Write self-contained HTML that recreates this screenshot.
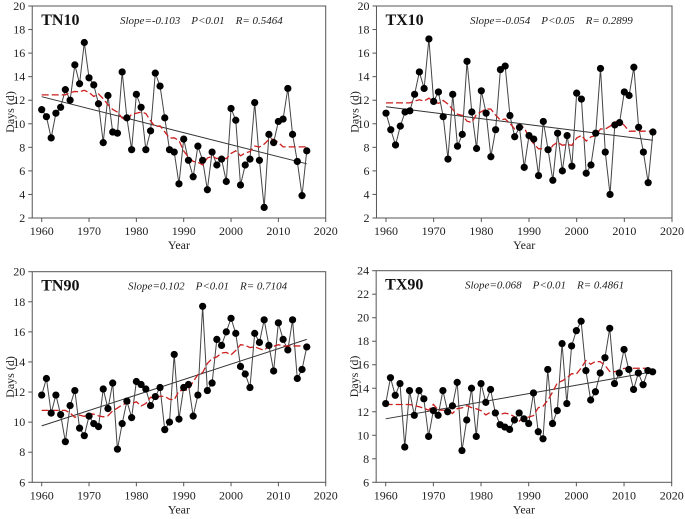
<!DOCTYPE html>
<html><head><meta charset="utf-8">
<style>
html,body{margin:0;padding:0;background:#fff;}
svg{display:block;font-family:"Liberation Serif",serif;}
</style></head>
<body>
<svg id="chart" width="685" height="519" viewBox="0 0 685 519" xmlns="http://www.w3.org/2000/svg"></svg>
<script>
const years = [];
for (let y = 1960; y <= 2016; y++) years.push(y);
const tn10 = [11.2,10.6,8.8,10.9,11.4,12.9,12.0,15.0,13.4,16.9,13.9,13.3,11.7,8.4,12.4,9.3,9.2,14.4,10.5,7.8,12.5,11.4,7.8,9.4,14.3,13.2,10.5,7.8,7.6,4.9,8.7,6.9,5.5,8.1,6.9,4.4,7.6,6.5,7.0,5.1,11.3,10.3,4.8,6.5,7.0,11.8,6.9,2.9,9.1,8.4,10.2,10.4,13.0,9.1,6.8,3.9,7.7];
const tx10 = [10.9,9.5,8.2,9.8,11.0,11.1,12.5,14.4,13.0,17.2,11.9,12.7,10.6,7.0,12.5,8.1,9.1,15.3,11.0,7.9,12.8,10.9,7.2,9.5,14.6,14.9,10.7,8.9,9.7,6.3,9.0,8.7,5.6,10.2,7.8,5.2,9.2,6.0,9.0,6.4,12.6,12.1,5.8,6.5,9.2,14.7,7.6,4.0,9.9,10.1,12.7,12.4,14.8,9.7,7.6,5.0,9.3];
const tn90 = [11.8,12.9,10.6,11.8,10.5,8.7,11.1,12.1,9.6,9.1,10.4,9.9,9.7,12.2,10.9,12.6,8.2,9.9,11.4,10.3,12.7,12.5,12.2,11.1,11.7,12.3,9.5,10.0,14.5,10.2,12.3,12.5,10.4,11.8,17.7,12.1,12.6,15.5,15.1,16.0,16.9,15.9,13.7,13.2,12.3,15.9,15.3,16.8,15.1,13.4,16.6,15.5,14.8,16.8,12.9,13.5,15.0];
const tx90 = [12.7,14.9,13.4,14.4,9.0,13.8,11.7,13.8,13.1,9.9,12.1,11.7,13.8,12.0,12.5,14.5,8.7,11.3,14.0,9.9,14.4,12.8,13.9,11.9,10.9,10.7,10.5,11.3,11.9,11.4,11.0,13.6,10.3,9.7,15.6,11.0,12.1,17.8,12.7,17.6,18.9,19.7,15.5,13.0,13.7,15.3,16.6,19.1,14.4,15.3,17.3,15.6,13.9,15.3,14.3,15.5,15.4];
const trendStart = [12.3, 11.45, 9.75, 11.4];
const trendEnd = [6.6, 8.6, 15.5, 15.4];
const xTicks = [1960,1970,1980,1990,2000,2010,2020];
const yTicksA = [2,4,6,8,10,12,14,16,18,20];
const yTicksB = [6,8,10,12,14,16,18,20];
const yTicksC = [6,8,10,12,14,16,18,20,22,24];
const titles = ["TN10","TX10","TN90","TX90"];
const stats = ["Slope=-0.103    P<0.01    R= 0.5464","Slope=-0.054    P<0.05    R= 0.2899","Slope=0.102    P<0.01    R= 0.7104","Slope=0.068    P<0.01    R= 0.4861"];

const panels = [
 {data:tn10, ticks:yTicksA, x0:41.7, x1:325.7, yTop:6, yBot:218, statX:120},
 {data:tx10, ticks:yTicksA, x0:386, x1:672, yTop:6, yBot:218, statX:470},
 {data:tn90, ticks:yTicksB, x0:41.7, x1:325.7, yTop:271.7, yBot:482.3, statX:128},
 {data:tx90, ticks:yTicksC, x0:385.7, x1:671.7, yTop:270.7, yBot:482.3, statX:465}
];
const NS = "http://www.w3.org/2000/svg";
const svg = document.getElementById('chart');
function mk(tag, attrs, parent){const e=document.createElementNS(NS,tag);for(const k in attrs)e.setAttribute(k,attrs[k]);(parent||svg).appendChild(e);return e;}
function movAvg(d){const n=d.length,out=[];for(let i=0;i<n;i++){let c=Math.min(Math.max(i,5),n-6);let s=0;for(let j=c-5;j<=c+5;j++)s+=d[j];out.push(s/11);}return out;}

panels.forEach((p,pi)=>{
  const g = mk('g',{});
  
  
  const yMin=p.ticks[0], yMax=p.ticks[p.ticks.length-1];
  const X = v => p.x0 + (v-1960)*(p.x1-p.x0)/60;
  const Y = v => p.yBot - (v-yMin)*(p.yBot-p.yTop)/(yMax-yMin);
  const left = X(1958), right = X(2020);
  const box = mk('rect',{x:left,y:p.yTop,width:right-left,height:p.yBot-p.yTop,fill:'none',stroke:'#555','stroke-width':1},g);
  
  
  xTicks.forEach(t=>{
    mk('line',{x1:X(t),x2:X(t),y1:p.yBot,y2:p.yBot+4,stroke:'#555'},g);
    const tx=mk('text',{x:X(t),y:p.yBot+17,'text-anchor':'middle','font-size':12,fill:'#222'},g);
    tx.textContent=t;
    
    
  });
  p.ticks.forEach(t=>{
    mk('line',{x1:left-4,x2:left,y1:Y(t),y2:Y(t),stroke:'#555'},g);
    const tx=mk('text',{x:left-7,y:Y(t)+4,'text-anchor':'end','font-size':12,fill:'#222'},g);
    tx.textContent=t;
    
    
  });
  const xt=mk('text',{x:(left+right)/2,y:p.yBot+31,'text-anchor':'middle','font-size':12,fill:'#222'},g);
  xt.textContent='Year';
  
  
  const yc=(p.yTop+p.yBot)/2;
  const yt=mk('text',{x:9,y:yc,transform:`rotate(-90 ${left-22} ${yc})`,'text-anchor':'middle','font-size':12,fill:'#222'},g);
  yt.setAttribute('x',left-22); yt.setAttribute('y',yc+4);
  yt.textContent='Days (d)';
  
  
  const tt=mk('text',{x:left+9,y:p.yTop+19,'font-size':16,'font-weight':'bold',fill:'#111'},g);
  tt.textContent=titles[pi];
  
  
  const st=mk('text',{x:p.statX,y:p.yTop+18,'font-size':11,'font-style':'italic',fill:'#222','xml:space':'preserve'},g);
  st.style.whiteSpace='pre';
  st.textContent=stats[pi];
  
  
  // trend line
  const tr=mk('line',{x1:X(1960),y1:Y(trendStart[pi]),x2:X(2016),y2:Y(trendEnd[pi]),stroke:'#333','stroke-width':1},g);
  
  
  // series line
  const pts=p.data.map((v,i)=>X(years[i])+','+Y(v)).join(' ');
  const pl=mk('polyline',{points:pts,fill:'none',stroke:'#444','stroke-width':1},g);
  
  
  // moving average
  const ma=movAvg(p.data);
  const mp=mk('polyline',{points:ma.map((v,i)=>X(years[i])+','+Y(v)).join(' '),fill:'none',stroke:'#cc1f1f','stroke-width':1.3,'stroke-dasharray':'7,3'},g);
  
  
  p.data.forEach((v,i)=>{
    const c=mk('circle',{cx:X(years[i]),cy:Y(v),r:3.6,fill:'#000'},g);
    
    
  });
});
</script>
</body></html>
